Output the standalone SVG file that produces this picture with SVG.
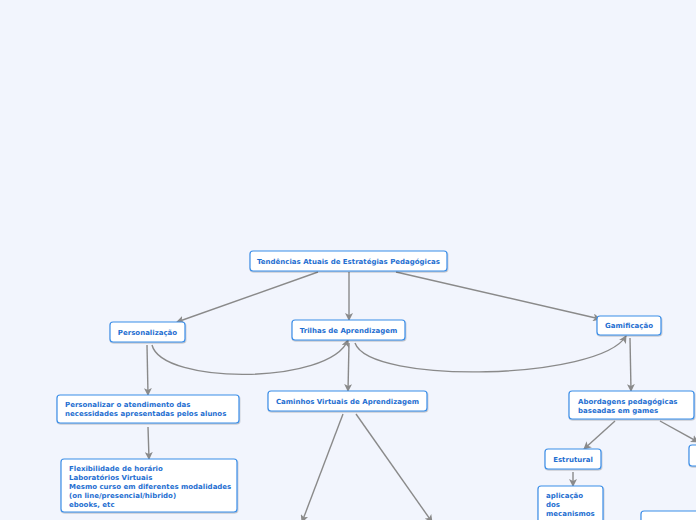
<svg xmlns="http://www.w3.org/2000/svg" width="696" height="520" viewBox="0 0 696 520">
<defs>
<marker id="a" markerWidth="8" markerHeight="8" refX="7" refY="4" orient="auto" markerUnits="userSpaceOnUse"><path d="M0,0 L8,4 L0,8 L2,4 Z" fill="#8a8a8a"/></marker>
<filter id="s" x="-10%" y="-20%" width="120%" height="150%"><feDropShadow dx="0.5" dy="1" stdDeviation="0.7" flood-color="#000" flood-opacity="0.25"/></filter>
</defs>
<style>
.n rect{fill:#fff;stroke:#3b8ee8;stroke-width:1.2;filter:url(#s)}
.n text{font-family:"DejaVu Sans",Verdana,sans-serif;font-weight:bold;font-size:7px;fill:#1f6fd1}
.c path{fill:none;stroke:#8a8a8a;stroke-width:1.4;marker-end:url(#a)}
</style>
<rect width="696" height="520" fill="#f2f5fd"/>
<g class="c">
<path d="M318,272 L177,322"/>
<path d="M349,272 L349,320"/>
<path d="M396,272 L600,319"/>
<path d="M147,345 L148,395"/>
<path d="M152,345 C162,385 330,385 348,340"/>
<path d="M355,343 C370,385 600,380 626,336"/>
<path d="M349,343 L348,391"/>
<path d="M630,338 L631,391"/>
<path d="M343,414 L302,522"/>
<path d="M356,414 L432,522"/>
<path d="M148,427 L149,459"/>
<path d="M615,421 L584,449"/>
<path d="M660,421 L698,442"/>
<path d="M573,472 L573,486"/>
</g>
<g id="root" class="n"><rect x="250" y="251" width="197" height="20" rx="3"/><text x="348.5" y="263.5" text-anchor="middle">Tendências Atuais de Estratégias Pedagógicas</text></g>
<g id="pers" class="n"><rect x="110" y="322" width="75" height="20" rx="3"/><text x="147.5" y="334.5" text-anchor="middle">Personalização</text></g>
<g id="trilhas" class="n"><rect x="292" y="320" width="113" height="20" rx="3"/><text x="348.5" y="332.5" text-anchor="middle">Trilhas de Aprendizagem</text></g>
<g id="gam" class="n"><rect x="597" y="316" width="64" height="19" rx="3"/><text x="629" y="328" text-anchor="middle">Gamificação</text></g>
<g id="personalizar" class="n"><rect x="57" y="395" width="182" height="28" rx="3"/><text x="65" y="407">Personalizar o atendimento das</text><text x="65" y="416">necessidades apresentadas pelos alunos</text></g>
<g id="caminhos" class="n"><rect x="268" y="391" width="159" height="20" rx="3"/><text x="347.5" y="403.5" text-anchor="middle">Caminhos Virtuais de Aprendizagem</text></g>
<g id="flex" class="n"><rect x="61" y="459" width="176" height="53" rx="3"/><text x="69" y="471">Flexibilidade de horário</text><text x="69" y="480">Laboratórios Virtuais</text><text x="69" y="489">Mesmo curso em diferentes modalidades</text><text x="69" y="498">(on line/presencial/hibrido)</text><text x="69" y="507">ebooks, etc</text></g>
<g id="abord" class="n"><rect x="569" y="391" width="125" height="28" rx="3"/><text x="578" y="404">Abordagens pedagógicas</text><text x="578" y="413">baseadas em games</text></g>
<g id="estrutural" class="n"><rect x="545" y="449" width="56" height="20" rx="3"/><text x="573" y="461.5" text-anchor="middle">Estrutural</text></g>
<g id="aplicacao" class="n"><rect x="538" y="486" width="65" height="40" rx="3"/><text x="546" y="498">aplicação</text><text x="546" y="507">dos</text><text x="546" y="516">mecanismos</text></g>
<g id="right1" class="n"><rect x="689" y="445" width="20" height="21" rx="3"/></g>
<g id="right2" class="n"><rect x="641" y="511" width="70" height="20" rx="3"/></g>
</svg>
